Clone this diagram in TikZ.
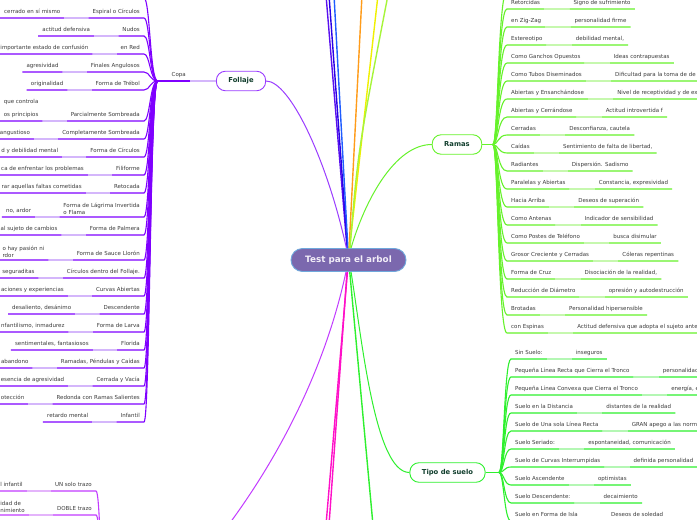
\documentclass[tikz,border=0pt]{standalone}
\usepackage{fontspec}
\setmainfont{DejaVu Sans}
\usepackage{tikz}
\usepackage{xcolor}
\definecolor{follc}{HTML}{7F00FF}
\definecolor{follight}{HTML}{D4B6FB}
\definecolor{follborder}{HTML}{9A3CFF}
\definecolor{ramasc}{HTML}{66F22B}
\definecolor{ramaslight}{HTML}{C6F8AE}
\definecolor{sueloc}{HTML}{2EF02E}
\definecolor{suelolight}{HTML}{B4F7B4}
\definecolor{troncoc}{HTML}{C23BFF}
\definecolor{troncolight}{HTML}{E4B4FB}
\definecolor{titlefill}{HTML}{7B68AE}
\definecolor{titleline}{HTML}{6FA8DC}
\definecolor{titletext}{HTML}{F2EEF8}
\definecolor{topictext}{HTML}{123F2E}
\definecolor{leaftext}{HTML}{3C3C3C}
\definecolor{indigoc}{HTML}{5A10F0}
\definecolor{navyc}{HTML}{2A00E6}
\definecolor{bluec}{HTML}{1E5CFF}
\definecolor{orangec}{HTML}{FF9C1A}
\definecolor{yellowc}{HTML}{F0F000}
\definecolor{limec}{HTML}{A6F53A}
\definecolor{pinkc}{HTML}{FF10C8}

\begin{document}
\begin{tikzpicture}[x=1pt, y=-1pt,
  leaf/.style={font={\fontsize{5.5}{6.6}\selectfont}, text=leaftext, inner xsep=4pt, inner ysep=2.7pt, text depth=1.3pt, align=left},
  lleaf/.style={leaf, anchor=south east},
  rleaf/.style={leaf, anchor=south west},
  multi/.style={text depth={}},
  topic/.style={draw, fill=white, rounded corners=9pt, line width=0.9pt, inner xsep=12pt, minimum height=19.5pt, font={\fontsize{6.8}{8}\selectfont\bfseries}, text=topictext},
  title/.style={draw=titleline, fill=titlefill, line width=0.9pt, rounded corners=11.5pt, minimum width=115pt, minimum height=23pt, text=titletext, font={\fontsize{8.8}{10}\selectfont\bfseries}},
  main/.style={line width=1.4pt},
  fdark/.style={draw=follc, line width=1.1pt},
  flight/.style={draw=follight},
  rdark/.style={draw=ramasc, line width=1.1pt},
  rlight/.style={draw=ramaslight},
  sdark/.style={draw=sueloc, line width=1.1pt},
  slight/.style={draw=suelolight},
  bdark/.style={draw=troncoc, line width=1.1pt},
  blight/.style={draw=troncolight}]
  \path[use as bounding box, fill=white] (0,0) rectangle (697,520);

  \node[title] (title) at (348.5,260) {Test para el arbol};
  \node[topic, draw=follborder] (follaje) at (241,81) {Follaje};
  \node[topic, draw=ramasc] (ramas) at (457,144.5) {Ramas};
  \node[topic, draw=sueloc] (suelo) at (447.5,472.5) {Tipo de suelo};

  \coordinate (upA) at (326,-5);
  \coordinate (upB) at (329,-5);
  \coordinate (upC) at (334,-5);
  \coordinate (upD) at (362,-5);
  \coordinate (upE) at (378,-5);
  \coordinate (upF) at (388,-5);
  \coordinate (downA) at (326,525);
  \coordinate (downB) at (329,525);
  \coordinate (downC) at (373,525);
  \coordinate (tronco) at (205,555);

  \draw[main, indigoc] (title.97) -- (upA);
  \draw[main, navyc] (title.95) -- (upB);
  \draw[main, bluec] (title.93) -- (upC);
  \draw[main, orangec] (title.87) -- (upD);
  \draw[main, yellowc] (title.85) -- (upE);
  \draw[main, limec] (title.83) .. controls (358,150) .. (upF);
  \draw[line width=1pt, follborder] (title.100) .. controls (327,160) and (290,81) .. (follaje.east);
  \draw[line width=1pt, ramasc] (title.78) .. controls (365,200) and (395,144.5) .. (ramas.west);
  \draw[line width=1pt, sueloc] (title.282) .. controls (362,340) and (375,472.5) .. (suelo.west);
  \draw[main, sueloc] (title.276) -- (downC);
  \draw[main, pinkc] (title.265) -- (downA);
  \draw[main, pinkc] (title.263) -- (downB);
  \draw[line width=1pt, troncoc] (title.258) .. controls (325,370) and (275,470) .. (tronco);

  \node[leaf, anchor=south east, text width=24pt, align=right] (copa) at (190,81) {Copa};
  \draw[flight, line width=1.1pt] (follaje.west) -- (copa.south east);
  \draw[fdark] (copa.south east) -- (copa.south west);
  \coordinate (ftop) at (144,-2);
  \draw[fdark] (copa.south west) .. controls (150,81) and (150,-2) .. (ftop);

  \node[lleaf] (c01) at (144,18) {Espiral o Círculos};
  \node[lleaf, xshift=-24pt] (d01) at (c01.south west) {cerrado en sí mismo};
  \draw[fdark] (copa.south west) .. controls (150,81) and (150,18) .. (c01.south east) -- (c01.south west) edge[flight] (d01.south east) (d01.south east) -- (d01.south west);
  \node[lleaf] (c02) at (144,36) {Nudos};
  \node[lleaf, xshift=-24pt] (d02) at (c02.south west) {actitud defensiva};
  \draw[fdark] (copa.south west) .. controls (150,81) and (150,36) .. (c02.south east) -- (c02.south west) edge[flight] (d02.south east) (d02.south east) -- (d02.south west);
  \node[lleaf] (c03) at (144,54) {en Red};
  \node[lleaf, xshift=-24pt] (d03) at (c03.south west) {importante estado de confusión};
  \draw[fdark] (copa.south west) .. controls (150,81) and (150,54) .. (c03.south east) -- (c03.south west) edge[flight] (d03.south east) (d03.south east) -- (d03.south west);
  \node[lleaf] (c04) at (144,72) {Finales Angulosos};
  \node[lleaf, xshift=-24pt] (d04) at (c04.south west) {agresividad};
  \draw[fdark] (copa.south west) .. controls (150,81) and (150,72) .. (c04.south east) -- (c04.south west) edge[flight] (d04.south east) (d04.south east) -- (d04.south west);
  \node[lleaf] (c05) at (144,90) {Forma de Trébol};
  \node[lleaf, xshift=-24pt] (d05) at (c05.south west) {originalidad};
  \draw[fdark] (copa.south west) .. controls (150,81) and (150,90) .. (c05.south east) -- (c05.south west) edge[flight] (d05.south east) (d05.south east) -- (d05.south west);
  \node[lleaf] (c06) at (144,121) {Parcialmente Sombreada};
  \node[lleaf, multi, xshift=-24pt] (d06) at (c06.south west) {que controla\\[6.4pt]os principios};
  \draw[fdark] (copa.south west) .. controls (150,81) and (150,121) .. (c06.south east) -- (c06.south west) edge[flight] (d06.south east) (d06.south east) -- (d06.south west);
  \node[lleaf] (c07) at (144,139) {Completamente Sombreada};
  \node[lleaf, xshift=-24pt] (d07) at (c07.south west) {angustioso};
  \draw[fdark] (copa.south west) .. controls (150,81) and (150,139) .. (c07.south east) -- (c07.south west) edge[flight] (d07.south east) (d07.south east) -- (d07.south west);
  \node[lleaf] (c08) at (144,157) {Forma de Círculos};
  \node[lleaf, xshift=-24pt] (d08) at (c08.south west) {d y debilidad mental};
  \draw[fdark] (copa.south west) .. controls (150,81) and (150,157) .. (c08.south east) -- (c08.south west) edge[flight] (d08.south east) (d08.south east) -- (d08.south west);
  \node[lleaf] (c09) at (144,175) {Filiforme};
  \node[lleaf, xshift=-24pt] (d09) at (c09.south west) {ca de enfrentar los problemas};
  \draw[fdark] (copa.south west) .. controls (150,81) and (150,175) .. (c09.south east) -- (c09.south west) edge[flight] (d09.south east) (d09.south east) -- (d09.south west);
  \node[lleaf] (c10) at (144,193) {Retocada};
  \node[lleaf, xshift=-24pt] (d10) at (c10.south west) {rar aquellas faltas cometidas};
  \draw[fdark] (copa.south west) .. controls (150,81) and (150,193) .. (c10.south east) -- (c10.south west) edge[flight] (d10.south east) (d10.south east) -- (d10.south west);
  \node[lleaf, multi] (c11) at (144,217) {Forma de Lágrima Invertida\\o Flama};
  \node[lleaf, xshift=-24pt] (d11) at (c11.south west) {no, ardor};
  \draw[fdark] (copa.south west) .. controls (150,81) and (150,217) .. (c11.south east) -- (c11.south west) edge[flight] (d11.south east) (d11.south east) -- (d11.south west);
  \node[lleaf] (c12) at (144,235) {Forma de Palmera};
  \node[lleaf, xshift=-24pt] (d12) at (c12.south west) {al sujeto de cambios};
  \draw[fdark] (copa.south west) .. controls (150,81) and (150,235) .. (c12.south east) -- (c12.south west) edge[flight] (d12.south east) (d12.south east) -- (d12.south west);
  \node[lleaf] (c13) at (144,260) {Forma de Sauce Llorón};
  \node[lleaf, multi, xshift=-24pt] (d13) at (c13.south west) {o hay pasión ni\\rdor};
  \draw[fdark] (copa.south west) .. controls (150,81) and (150,260) .. (c13.south east) -- (c13.south west) edge[flight] (d13.south east) (d13.south east) -- (d13.south west);
  \node[lleaf] (c14) at (144,278) {Círculos dentro del Follaje.};
  \node[lleaf, xshift=-24pt] (d14) at (c14.south west) {seguraditas};
  \draw[fdark] (copa.south west) .. controls (150,81) and (150,278) .. (c14.south east) -- (c14.south west) edge[flight] (d14.south east) (d14.south east) -- (d14.south west);
  \node[lleaf] (c15) at (144,296) {Curvas Abiertas};
  \node[lleaf, xshift=-24pt] (d15) at (c15.south west) {aciones y experiencias};
  \draw[fdark] (copa.south west) .. controls (150,81) and (150,296) .. (c15.south east) -- (c15.south west) edge[flight] (d15.south east) (d15.south east) -- (d15.south west);
  \node[lleaf] (c16) at (144,314) {Descendente};
  \node[lleaf, xshift=-24pt] (d16) at (c16.south west) {desaliento, desánimo};
  \draw[fdark] (copa.south west) .. controls (150,81) and (150,314) .. (c16.south east) -- (c16.south west) edge[flight] (d16.south east) (d16.south east) -- (d16.south west);
  \node[lleaf] (c17) at (144,332) {Forma de Larva};
  \node[lleaf, xshift=-24pt] (d17) at (c17.south west) {nfantilismo, inmadurez};
  \draw[fdark] (copa.south west) .. controls (150,81) and (150,332) .. (c17.south east) -- (c17.south west) edge[flight] (d17.south east) (d17.south east) -- (d17.south west);
  \node[lleaf] (c18) at (144,350) {Florida};
  \node[lleaf, xshift=-24pt] (d18) at (c18.south west) {sentimentales, fantasiosos};
  \draw[fdark] (copa.south west) .. controls (150,81) and (150,350) .. (c18.south east) -- (c18.south west) edge[flight] (d18.south east) (d18.south east) -- (d18.south west);
  \node[lleaf] (c19) at (144,368) {Ramadas, Péndulas y Caídas};
  \node[lleaf, xshift=-24pt] (d19) at (c19.south west) {abandono};
  \draw[fdark] (copa.south west) .. controls (150,81) and (150,368) .. (c19.south east) -- (c19.south west) edge[flight] (d19.south east) (d19.south east) -- (d19.south west);
  \node[lleaf] (c20) at (144,386) {Cerrada y Vacía};
  \node[lleaf, xshift=-24pt] (d20) at (c20.south west) {esencia de agresividad};
  \draw[fdark] (copa.south west) .. controls (150,81) and (150,386) .. (c20.south east) -- (c20.south west) edge[flight] (d20.south east) (d20.south east) -- (d20.south west);
  \node[lleaf] (c21) at (144,404) {Redonda con Ramas Salientes};
  \node[lleaf, xshift=-24pt] (d21) at (c21.south west) {otección};
  \draw[fdark] (copa.south west) .. controls (150,81) and (150,404) .. (c21.south east) -- (c21.south west) edge[flight] (d21.south east) (d21.south east) -- (d21.south west);
  \node[lleaf] (c22) at (144,422) {Infantil};
  \node[lleaf, xshift=-24pt] (d22) at (c22.south west) {retardo mental};
  \draw[fdark] (copa.south west) .. controls (150,81) and (150,422) .. (c22.south east) -- (c22.south west) edge[flight] (d22.south east) (d22.south east) -- (d22.south west);

  \coordinate (rroot) at (493,144.5);
  \draw[rdark, line width=1.4pt] (ramas.east) -- (rroot);
  \coordinate (rtop) at (507,-9);
  \draw[rdark] (rroot) .. controls (498,144.5) and (498,-9) .. (rtop);

  \node[rleaf] (r01) at (507,9) {Retorcidas};
  \node[rleaf, xshift=25pt] (s01) at (r01.south east) {Signo de sufrimiento};
  \draw[rdark] (rroot) .. controls (498,144.5) and (498,9) .. (r01.south west) -- (r01.south east) edge[rlight] (s01.south west) (s01.south west) -- (s01.south east);
  \node[rleaf] (r02) at (507,27) {en Zig-Zag};
  \node[rleaf, xshift=25pt] (s02) at (r02.south east) {personalidad firme};
  \draw[rdark] (rroot) .. controls (498,144.5) and (498,27) .. (r02.south west) -- (r02.south east) edge[rlight] (s02.south west) (s02.south west) -- (s02.south east);
  \node[rleaf] (r03) at (507,45) {Estereotipo};
  \node[rleaf, xshift=25pt] (s03) at (r03.south east) {debilidad mental,};
  \draw[rdark] (rroot) .. controls (498,144.5) and (498,45) .. (r03.south west) -- (r03.south east) edge[rlight] (s03.south west) (s03.south west) -- (s03.south east);
  \node[rleaf] (r04) at (507,63) {Como Ganchos Opuestos};
  \node[rleaf, xshift=25pt] (s04) at (r04.south east) {Ideas contrapuestas};
  \draw[rdark] (rroot) .. controls (498,144.5) and (498,63) .. (r04.south west) -- (r04.south east) edge[rlight] (s04.south west) (s04.south west) -- (s04.south east);
  \node[rleaf] (r05) at (507,81) {Como Tubos Diseminados};
  \node[rleaf, xshift=25pt] (s05) at (r05.south east) {Dificultad para la toma de de};
  \draw[rdark] (rroot) .. controls (498,144.5) and (498,81) .. (r05.south west) -- (r05.south east) edge[rlight] (s05.south west) (s05.south west) -- (s05.south east);
  \node[rleaf] (r06) at (507,99) {Abiertas y Ensanchándose};
  \node[rleaf, xshift=25pt] (s06) at (r06.south east) {Nivel de receptividad y de ex};
  \draw[rdark] (rroot) .. controls (498,144.5) and (498,99) .. (r06.south west) -- (r06.south east) edge[rlight] (s06.south west) (s06.south west) -- (s06.south east);
  \node[rleaf] (r07) at (507,117) {Abiertas y Cerrándose};
  \node[rleaf, xshift=25pt] (s07) at (r07.south east) {Actitud introvertida f};
  \draw[rdark] (rroot) .. controls (498,144.5) and (498,117) .. (r07.south west) -- (r07.south east) edge[rlight] (s07.south west) (s07.south west) -- (s07.south east);
  \node[rleaf] (r08) at (507,135) {Cerradas};
  \node[rleaf, xshift=25pt] (s08) at (r08.south east) {Desconfianza, cautela};
  \draw[rdark] (rroot) .. controls (498,144.5) and (498,135) .. (r08.south west) -- (r08.south east) edge[rlight] (s08.south west) (s08.south west) -- (s08.south east);
  \node[rleaf] (r09) at (507,153) {Caídas};
  \node[rleaf, xshift=25pt] (s09) at (r09.south east) {Sentimiento de falta de libertad,};
  \draw[rdark] (rroot) .. controls (498,144.5) and (498,153) .. (r09.south west) -- (r09.south east) edge[rlight] (s09.south west) (s09.south west) -- (s09.south east);
  \node[rleaf] (r10) at (507,171) {Radiantes};
  \node[rleaf, xshift=25pt] (s10) at (r10.south east) {Dispersión. Sadismo};
  \draw[rdark] (rroot) .. controls (498,144.5) and (498,171) .. (r10.south west) -- (r10.south east) edge[rlight] (s10.south west) (s10.south west) -- (s10.south east);
  \node[rleaf] (r11) at (507,189) {Paralelas y Abiertas};
  \node[rleaf, xshift=25pt] (s11) at (r11.south east) {Constancia, expresividad};
  \draw[rdark] (rroot) .. controls (498,144.5) and (498,189) .. (r11.south west) -- (r11.south east) edge[rlight] (s11.south west) (s11.south west) -- (s11.south east);
  \node[rleaf] (r12) at (507,207) {Hacia Arriba};
  \node[rleaf, xshift=25pt] (s12) at (r12.south east) {Deseos de superación};
  \draw[rdark] (rroot) .. controls (498,144.5) and (498,207) .. (r12.south west) -- (r12.south east) edge[rlight] (s12.south west) (s12.south west) -- (s12.south east);
  \node[rleaf] (r13) at (507,225) {Como Antenas};
  \node[rleaf, xshift=25pt] (s13) at (r13.south east) {Indicador de sensibilidad};
  \draw[rdark] (rroot) .. controls (498,144.5) and (498,225) .. (r13.south west) -- (r13.south east) edge[rlight] (s13.south west) (s13.south west) -- (s13.south east);
  \node[rleaf] (r14) at (507,243) {Como Postes de Teléfono};
  \node[rleaf, xshift=25pt] (s14) at (r14.south east) {busca disimular};
  \draw[rdark] (rroot) .. controls (498,144.5) and (498,243) .. (r14.south west) -- (r14.south east) edge[rlight] (s14.south west) (s14.south west) -- (s14.south east);
  \node[rleaf] (r15) at (507,261) {Grosor Creciente y Cerradas};
  \node[rleaf, xshift=25pt] (s15) at (r15.south east) {Cóleras repentinas};
  \draw[rdark] (rroot) .. controls (498,144.5) and (498,261) .. (r15.south west) -- (r15.south east) edge[rlight] (s15.south west) (s15.south west) -- (s15.south east);
  \node[rleaf] (r16) at (507,279) {Forma de Cruz};
  \node[rleaf, xshift=25pt] (s16) at (r16.south east) {Disociación de la realidad,};
  \draw[rdark] (rroot) .. controls (498,144.5) and (498,279) .. (r16.south west) -- (r16.south east) edge[rlight] (s16.south west) (s16.south west) -- (s16.south east);
  \node[rleaf] (r17) at (507,297) {Reducción de Diámetro};
  \node[rleaf, xshift=25pt] (s17) at (r17.south east) {opresión y autodestrucción};
  \draw[rdark] (rroot) .. controls (498,144.5) and (498,297) .. (r17.south west) -- (r17.south east) edge[rlight] (s17.south west) (s17.south west) -- (s17.south east);
  \node[rleaf] (r18) at (507,315) {Brotadas};
  \node[rleaf, xshift=25pt] (s18) at (r18.south east) {Personalidad hipersensible};
  \draw[rdark] (rroot) .. controls (498,144.5) and (498,315) .. (r18.south west) -- (r18.south east) edge[rlight] (s18.south west) (s18.south west) -- (s18.south east);
  \node[rleaf] (r19) at (507,333) {con Espinas};
  \node[rleaf, xshift=25pt] (s19) at (r19.south east) {Actitud defensiva que adopta el sujeto ante};
  \draw[rdark] (rroot) .. controls (498,144.5) and (498,333) .. (r19.south west) -- (r19.south east) edge[rlight] (s19.south west) (s19.south west) -- (s19.south east);

  \coordinate (troot) at (499,472.5);
  \draw[sdark, line width=1.4pt] (suelo.east) -- (troot);

  \node[rleaf] (t01) at (511,359) {Sin Suelo:};
  \node[rleaf, xshift=25pt] (u01) at (t01.south east) {inseguros};
  \draw[sdark] (troot) .. controls (504,472.5) and (504,359) .. (t01.south west) -- (t01.south east) edge[slight] (u01.south west) (u01.south west) -- (u01.south east);
  \node[rleaf] (t02) at (511,377) {Pequeña Línea Recta que Cierra el Tronco};
  \node[rleaf, xshift=25pt] (u02) at (t02.south east) {personalidad};
  \draw[sdark] (troot) .. controls (504,472.5) and (504,377) .. (t02.south west) -- (t02.south east) edge[slight] (u02.south west) (u02.south west) -- (u02.south east);
  \node[rleaf] (t03) at (511,395) {Pequeña Línea Convexa que Cierra el Tronco};
  \node[rleaf, xshift=25pt] (u03) at (t03.south east) {energía, e};
  \draw[sdark] (troot) .. controls (504,472.5) and (504,395) .. (t03.south west) -- (t03.south east) edge[slight] (u03.south west) (u03.south west) -- (u03.south east);
  \node[rleaf] (t04) at (511,413) {Suelo en la Distancia};
  \node[rleaf, xshift=25pt] (u04) at (t04.south east) {distantes de la realidad};
  \draw[sdark] (troot) .. controls (504,472.5) and (504,413) .. (t04.south west) -- (t04.south east) edge[slight] (u04.south west) (u04.south west) -- (u04.south east);
  \node[rleaf] (t05) at (511,431) {Suelo de Una sola Línea Recta};
  \node[rleaf, xshift=25pt] (u05) at (t05.south east) {GRAN apego a las norm};
  \draw[sdark] (troot) .. controls (504,472.5) and (504,431) .. (t05.south west) -- (t05.south east) edge[slight] (u05.south west) (u05.south west) -- (u05.south east);
  \node[rleaf] (t06) at (511,449) {Suelo Seriado:};
  \node[rleaf, xshift=25pt] (u06) at (t06.south east) {espontaneidad, comunicación};
  \draw[sdark] (troot) .. controls (504,472.5) and (504,449) .. (t06.south west) -- (t06.south east) edge[slight] (u06.south west) (u06.south west) -- (u06.south east);
  \node[rleaf] (t07) at (511,467) {Suelo de Curvas Interrumpidas};
  \node[rleaf, xshift=25pt] (u07) at (t07.south east) {definida personalidad};
  \draw[sdark] (troot) .. controls (504,472.5) and (504,467) .. (t07.south west) -- (t07.south east) edge[slight] (u07.south west) (u07.south west) -- (u07.south east);
  \node[rleaf] (t08) at (511,485) {Suelo Ascendente};
  \node[rleaf, xshift=25pt] (u08) at (t08.south east) {optimistas};
  \draw[sdark] (troot) .. controls (504,472.5) and (504,485) .. (t08.south west) -- (t08.south east) edge[slight] (u08.south west) (u08.south west) -- (u08.south east);
  \node[rleaf] (t09) at (511,503) {Suelo Descendente:};
  \node[rleaf, xshift=25pt] (u09) at (t09.south east) {decaimiento};
  \draw[sdark] (troot) .. controls (504,472.5) and (504,503) .. (t09.south west) -- (t09.south east) edge[slight] (u09.south west) (u09.south west) -- (u09.south east);
  \node[rleaf] (t10) at (511,521) {Suelo en Forma de Isla};
  \node[rleaf, xshift=25pt] (u10) at (t10.south east) {Deseos de soledad};
  \draw[sdark] (troot) .. controls (504,472.5) and (504,521) .. (t10.south west) -- (t10.south east) edge[slight] (u10.south west) (u10.south west) -- (u10.south east);

  \coordinate (broot) at (104,575);
  \node[lleaf] (b1) at (96,491) {UN solo trazo};
  \node[lleaf, xshift=-24pt] (e1) at (b1.south west) {l infantil};
  \draw[bdark] (broot) .. controls (100,575) and (100,491) .. (b1.south east) -- (b1.south west) edge[blight] (e1.south east) (e1.south east) -- (e1.south west);
  \node[lleaf] (b2) at (96,515) {DOBLE trazo};
  \node[lleaf, multi, xshift=-24pt] (e2) at (b2.south west) {idad de\\nimiento};
  \draw[bdark] (broot) .. controls (100,575) and (100,515) .. (b2.south east) -- (b2.south west) edge[blight] (e2.south east) (e2.south east) -- (e2.south west);
\end{tikzpicture}
\end{document}
